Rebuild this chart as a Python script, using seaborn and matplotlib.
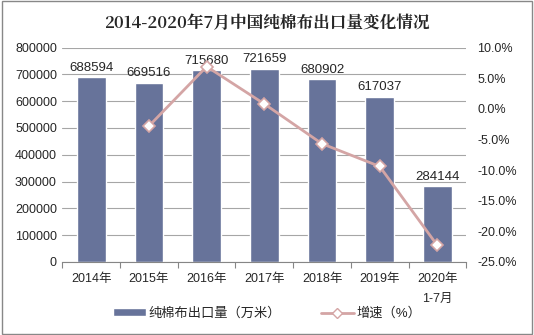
import numpy as np
import pandas as pd
import seaborn as sns
import matplotlib.pyplot as plt
from matplotlib.lines import Line2D
from matplotlib.patches import Patch

years = ["2014年", "2015年", "2016年", "2017年", "2018年", "2019年", "2020年\n1-7月"]
volume = [688594, 669516, 715680, 721659, 680902, 617037, 284144]
growth = [np.nan, -2.8, 6.9, 0.8, -5.7, -9.4, -22.3]

sns.set_style("white")
plt.rcParams['font.family'] = ['Liberation Sans', 'Noto Sans CJK SC']

bar_color = "#67739A"
line_color = "#D4A5A5"

df = pd.DataFrame({"year": years, "volume": volume, "growth": growth})

fig = plt.figure(figsize=(5.34, 3.35), dpi=100)
ax = fig.add_axes([0.117, 0.218, 0.756, 0.64])

sns.barplot(data=df, x="year", y="volume", color=bar_color, width=0.5,
            saturation=1, ax=ax, zorder=2)
ax.set_ylim(0, 800000)
ax.set_yticks(np.arange(0, 800001, 100000))
ax.yaxis.grid(True, color="#A6A6A6", linewidth=0.8, zorder=0)
ax.set_axisbelow(True)
ax.set_xlabel("")
ax.set_ylabel("")
for s in ["top", "right", "left"]:
    ax.spines[s].set_visible(False)
ax.spines["bottom"].set_color("#868686")
ax.tick_params(axis="both", labelsize=9, length=0, pad=4)
ax.tick_params(axis="x", pad=8)
ax.set_xticks(np.arange(-0.5, len(years), 1), minor=True)
ax.tick_params(axis="x", which="minor", bottom=True, length=4, width=0.8,
               color="#868686", direction="out")
for lbl in ax.get_xticklabels():
    lbl.set_linespacing(1.9)
for i, v in enumerate(volume):
    ax.text(i, v + 12000, str(v), ha="center", va="bottom", fontsize=9.5)

ax2 = ax.twinx()
sns.lineplot(x=np.arange(len(years)), y=growth, ax=ax2, color=line_color,
             linewidth=2, marker="D", markersize=6, markerfacecolor="white",
             markeredgecolor=line_color, markeredgewidth=1.2, zorder=3)
ax2.set_ylim(-25, 10)
ax2.set_yticks(np.arange(-25, 10.1, 5))
ax2.set_yticklabels([f"{t:.1f}%" for t in np.arange(-25, 10.1, 5)])
ax2.tick_params(axis="y", labelsize=9, length=0, pad=8)
for s in ax2.spines.values():
    s.set_visible(False)
ax2.set_xlim(-0.5, len(years) - 0.5)

fig.suptitle("2014-2020年7月中国纯棉布出口量变化情况", y=0.955, fontsize=12,
             fontweight="bold", family=['Noto Serif CJK SC', 'Noto Sans CJK SC'])

handles = [Patch(facecolor=bar_color, label="纯棉布出口量（万米）"),
           Line2D([0], [0], color=line_color, linewidth=2, marker="D",
                  markersize=5, markerfacecolor="white",
                  markeredgecolor=line_color, label="增速（%）")]
fig.legend(handles=handles, loc="lower center", bbox_to_anchor=(0.5, 0.01),
           ncol=2, frameon=False, fontsize=9.5, handlelength=2.5,
           handleheight=0.5, handletextpad=0.2, columnspacing=3)

fig.patches.append(plt.Rectangle((0.004, 0.004), 0.992, 0.992,
                                 transform=fig.transFigure, fill=False,
                                 edgecolor="#888888", linewidth=1))

fig.savefig("out.png", dpi=100)
